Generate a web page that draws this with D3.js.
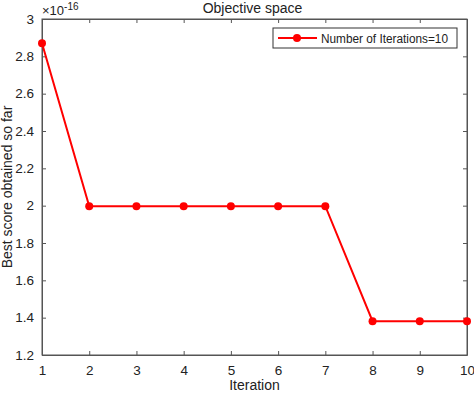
<!DOCTYPE html>
<html>
<head>
  <meta charset="utf-8" />
  <script src="https://d3js.org/d3.v7.min.js"></script>
  <style>
    body { margin: 0; background: #fff; }
    text { font-family: "Liberation Sans", Arial, sans-serif; fill: #222; }
    .axis path, .axis line { stroke: #555; }
  </style>
</head>
<body>
  <script type="text/javascript">
    // - - - - - DATA - - - - - //
    var iterations = [1, 2, 3, 4, 5, 6, 7, 8, 9, 10];
    var bestScore = [2.87, 1.997, 1.997, 1.997, 1.997, 1.997, 1.997, 1.381, 1.381, 1.381]; // x 1e-16
    var xTicks = [1, 2, 3, 4, 5, 6, 7, 8, 9, 10];
    var yTicks = [1.2, 1.4, 1.6, 1.8, 2, 2.2, 2.4, 2.6, 2.8, 3];

    var width = 474, height = 393;
    var margin = {top: 19, right: 7, bottom: 38, left: 42};
    var w = width - margin.left - margin.right,
        h = height - margin.top - margin.bottom;

    var svg = d3.select("body").append("svg")
        .attr("width", width)
        .attr("height", height);

    var g = svg.append("g")
        .attr("transform", "translate(" + margin.left + "," + margin.top + ")");

    var x = d3.scaleLinear().domain([1, 10]).range([0, w]);
    var y = d3.scaleLinear().domain([1.2, 3]).range([h, 0]);

    // box
    g.append("rect")
      .attr("width", w).attr("height", h)
      .attr("fill", "none").attr("stroke", "#555");

    g.append("g").attr("class", "axis")
        .attr("transform", "translate(0," + h + ")")
        .call(d3.axisBottom(x).tickValues(xTicks).tickSizeInner(-4).tickSizeOuter(0).tickPadding(10));
    g.append("g").attr("class", "axis")
        .call(d3.axisTop(x).tickValues(xTicks).tickSizeInner(-4).tickSizeOuter(0).tickFormat(""));
    g.append("g").attr("class", "axis")
        .call(d3.axisLeft(y).tickValues(yTicks).tickSizeInner(-4).tickSizeOuter(0).tickPadding(8)
          .tickFormat(function(d) { return String(+d.toFixed(1)); }));
    g.append("g").attr("class", "axis")
        .attr("transform", "translate(" + w + ",0)")
        .call(d3.axisRight(y).tickValues(yTicks).tickSizeInner(-4).tickSizeOuter(0).tickFormat(""));

    svg.selectAll(".axis text").style("font-size", "13.5px")
      .style("font-family", "Liberation Sans, Arial, sans-serif").style("fill", "#222");

    // line + markers
    var pts = iterations.map(function(d, i) { return [d, bestScore[i]]; });
    var line = d3.line().x(function(d) { return x(d[0]); }).y(function(d) { return y(d[1]); });

    g.append("path")
      .datum(pts)
      .attr("d", line)
      .attr("fill", "none")
      .attr("stroke", "#f00")
      .attr("stroke-width", 2);

    g.selectAll(".dot").data(pts).enter().append("circle")
      .attr("class", "dot")
      .attr("cx", function(d) { return x(d[0]); })
      .attr("cy", function(d) { return y(d[1]); })
      .attr("r", 4)
      .attr("fill", "#f00");

    // exponent label
    var ex = svg.append("text").attr("x", margin.left).attr("y", 15).style("font-size", "13px");
    ex.append("tspan").text("\u00d710");
    ex.append("tspan").attr("dy", -5).style("font-size", "10px").text("-16");

    // title
    svg.append("text")
      .attr("x", margin.left + w / 2 - 2).attr("y", 13)
      .attr("text-anchor", "middle")
      .style("font-size", "14px")
      .text("Objective space");

    // axis labels
    svg.append("text")
      .attr("x", margin.left + w / 2).attr("y", 390)
      .attr("text-anchor", "middle")
      .style("font-size", "14px")
      .text("Iteration");

    svg.append("text")
      .attr("transform", "translate(12," + (margin.top + h / 2) + ") rotate(-90)")
      .attr("text-anchor", "middle")
      .style("font-size", "14px")
      .text("Best score obtained so far");

    // legend
    var lg = svg.append("g").attr("transform", "translate(273,28)");
    lg.append("rect").attr("width", 184).attr("height", 20)
      .attr("fill", "#fff").attr("stroke", "#333");
    lg.append("line").attr("x1", 5).attr("x2", 44).attr("y1", 10).attr("y2", 10)
      .attr("stroke", "#f00").attr("stroke-width", 2);
    lg.append("circle").attr("cx", 24).attr("cy", 10).attr("r", 4).attr("fill", "#f00");
    lg.append("text").attr("x", 48).attr("y", 14.5).style("font-size", "12px")
      .attr("textLength", 127).attr("lengthAdjust", "spacingAndGlyphs")
      .text("Number of Iterations=10");
  </script>
</body>
</html>
